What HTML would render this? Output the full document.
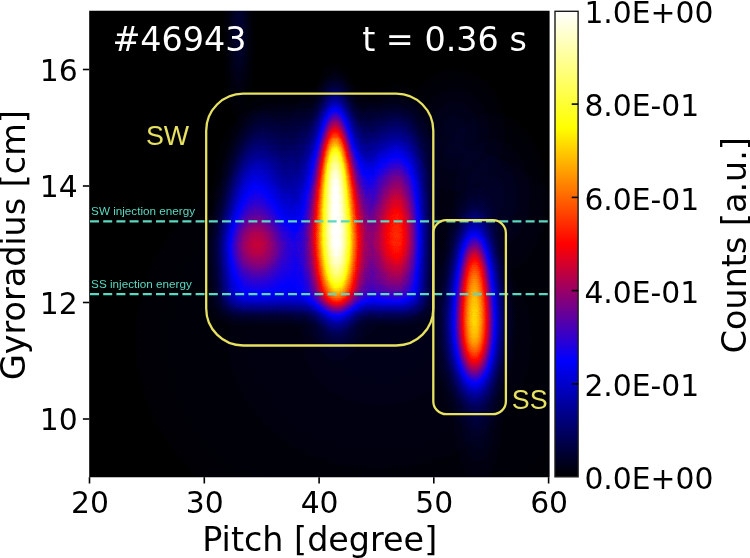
<!DOCTYPE html>
<html><head><meta charset="utf-8"><title>Gyroradius vs Pitch</title>
<style>
html,body{margin:0;padding:0;background:#fff;}
svg{display:block;}
text{font-family:'DejaVu Sans','Liberation Sans',sans-serif;fill:#000;}
.tk{font-size:29.8px;}
.lb{font-size:33.4px;}
.an{font-family:'Liberation Sans','DejaVu Sans',sans-serif;}
.hm ellipse{fill:url(#g);mix-blend-mode:plus-lighter;}
.hm path{mix-blend-mode:plus-lighter;}
</style></head><body>
<svg width="750" height="558" viewBox="0 0 750 558">
<defs>
<radialGradient id="g" cx="0.5" cy="0.5" r="0.5" fx="0.5" fy="0.5">
<stop offset="0.0000" stop-color="#fff" stop-opacity="0.9957"/><stop offset="0.0357" stop-color="#fff" stop-opacity="0.9888"/><stop offset="0.0714" stop-color="#fff" stop-opacity="0.9683"/><stop offset="0.1071" stop-color="#fff" stop-opacity="0.9351"/><stop offset="0.1429" stop-color="#fff" stop-opacity="0.8905"/><stop offset="0.1786" stop-color="#fff" stop-opacity="0.8363"/><stop offset="0.2143" stop-color="#fff" stop-opacity="0.7745"/><stop offset="0.2500" stop-color="#fff" stop-opacity="0.7072"/><stop offset="0.2857" stop-color="#fff" stop-opacity="0.6368"/><stop offset="0.3214" stop-color="#fff" stop-opacity="0.5654"/><stop offset="0.3571" stop-color="#fff" stop-opacity="0.4950"/><stop offset="0.3929" stop-color="#fff" stop-opacity="0.4272"/><stop offset="0.4286" stop-color="#fff" stop-opacity="0.3635"/><stop offset="0.4643" stop-color="#fff" stop-opacity="0.3049"/><stop offset="0.5000" stop-color="#fff" stop-opacity="0.2520"/><stop offset="0.5357" stop-color="#fff" stop-opacity="0.2053"/><stop offset="0.5714" stop-color="#fff" stop-opacity="0.1647"/><stop offset="0.6071" stop-color="#fff" stop-opacity="0.1301"/><stop offset="0.6429" stop-color="#fff" stop-opacity="0.1011"/><stop offset="0.6786" stop-color="#fff" stop-opacity="0.0772"/><stop offset="0.7143" stop-color="#fff" stop-opacity="0.0578"/><stop offset="0.7500" stop-color="#fff" stop-opacity="0.0424"/><stop offset="0.7857" stop-color="#fff" stop-opacity="0.0304"/><stop offset="0.8214" stop-color="#fff" stop-opacity="0.0211"/><stop offset="0.8571" stop-color="#fff" stop-opacity="0.0140"/><stop offset="0.8929" stop-color="#fff" stop-opacity="0.0087"/><stop offset="0.9286" stop-color="#fff" stop-opacity="0.0048"/><stop offset="0.9643" stop-color="#fff" stop-opacity="0.0020"/><stop offset="1.0000" stop-color="#fff" stop-opacity="0.0000"/>
</radialGradient>
<filter id="cm" x="0" y="0" width="1" height="1" color-interpolation-filters="sRGB">
<feComponentTransfer>
<feFuncR type="table" tableValues="0 0 1 1 1 1 1 1 1"/>
<feFuncG type="table" tableValues="0 0 0 1 1 1 1 1 1"/>
<feFuncB type="table" tableValues="0 1 0 0 1 1 1 1 1"/>
</feComponentTransfer>
</filter>
<filter id="b9" x="-0.3" y="-0.3" width="1.6" height="1.6" color-interpolation-filters="sRGB"><feGaussianBlur stdDeviation="9"/></filter><filter id="b12" x="-0.3" y="-0.3" width="1.6" height="1.6" color-interpolation-filters="sRGB"><feGaussianBlur stdDeviation="12"/></filter>
<linearGradient id="pg" gradientUnits="userSpaceOnUse" x1="0" y1="100" x2="0" y2="240">
<stop offset="0" stop-color="#fff" stop-opacity="0"/><stop offset="0.15" stop-color="#fff" stop-opacity="0.22"/><stop offset="0.5" stop-color="#fff" stop-opacity="0.5"/><stop offset="0.8" stop-color="#fff" stop-opacity="0.82"/><stop offset="1" stop-color="#fff" stop-opacity="1"/>
</linearGradient>
<linearGradient id="cb" x1="0" y1="1" x2="0" y2="0">
<stop offset="0" stop-color="#000"/><stop offset="0.25" stop-color="#00f"/><stop offset="0.5" stop-color="#f00"/><stop offset="0.75" stop-color="#ff0"/><stop offset="1" stop-color="#fff"/>
</linearGradient>
<clipPath id="cp"><rect x="89.2" y="10.8" width="460.4" height="466.4"/></clipPath>
</defs>
<rect width="750" height="558" fill="#fff"/>
<g clip-path="url(#cp)">
<g class="hm" filter="url(#cm)">
<rect x="87.2" y="8.8" width="464.4" height="470.4" fill="#000"/>

<path d="M225,308 L225,238 L232,190 L244,140 L256,100 L408,100 L416,140 L421,190 L421,308 Z" fill="url(#pg)" fill-opacity="0.1050" filter="url(#b9)"/>
<path d="M372,158H405Q419,158 419,172V288Q419,302 405,302H372Q358,302 358,288V172Q358,158 372,158Z" fill="#fff" fill-opacity="0.0275" filter="url(#b12)"/>
<ellipse cx="335.2" cy="154.0" rx="31.3" ry="92.4" fill-opacity="0.2047"/>
<ellipse cx="335.6" cy="186.0" rx="41.2" ry="92.4" fill-opacity="0.1764"/>
<ellipse cx="336.0" cy="218.0" rx="48.8" ry="92.4" fill-opacity="0.1575"/>
<ellipse cx="336.4" cy="250.0" rx="47.2" ry="92.4" fill-opacity="0.1575"/>
<ellipse cx="336.8" cy="282.0" rx="39.6" ry="92.4" fill-opacity="0.1528"/>
<ellipse cx="335.2" cy="148.0" rx="72.6" ry="99.0" fill-opacity="0.0286"/>
<ellipse cx="335.6" cy="181.0" rx="74.2" ry="99.0" fill-opacity="0.0286"/>
<ellipse cx="336.0" cy="214.0" rx="75.9" ry="99.0" fill-opacity="0.0286"/>
<ellipse cx="336.4" cy="247.0" rx="77.5" ry="99.0" fill-opacity="0.0286"/>
<ellipse cx="336.8" cy="280.0" rx="79.2" ry="99.0" fill-opacity="0.0286"/>
<ellipse cx="335.0" cy="112.0" rx="29.7" ry="66.0" fill-opacity="0.0400"/>
<ellipse cx="396.5" cy="211.0" rx="49.5" ry="85.8" fill-opacity="0.0553"/>
<ellipse cx="396.5" cy="236.0" rx="49.5" ry="85.8" fill-opacity="0.0553"/>
<ellipse cx="396.5" cy="261.0" rx="49.5" ry="85.8" fill-opacity="0.0553"/>
<ellipse cx="397.0" cy="172.0" rx="56.1" ry="112.2" fill-opacity="0.0675"/>
<ellipse cx="257.0" cy="247.0" rx="66.0" ry="79.2" fill-opacity="0.1025"/>
<ellipse cx="256.0" cy="190.0" rx="56.1" ry="105.6" fill-opacity="0.0500"/>
<ellipse cx="474.5" cy="256.0" rx="34.6" ry="82.5" fill-opacity="0.1303"/>
<ellipse cx="474.5" cy="282.0" rx="42.9" ry="82.5" fill-opacity="0.1375"/>
<ellipse cx="474.5" cy="308.0" rx="47.8" ry="82.5" fill-opacity="0.1447"/>
<ellipse cx="474.5" cy="334.0" rx="47.8" ry="82.5" fill-opacity="0.1621"/>
<ellipse cx="474.5" cy="360.0" rx="41.2" ry="82.5" fill-opacity="0.1375"/>
<ellipse cx="478.0" cy="420.0" rx="39.6" ry="99.0" fill-opacity="0.0150"/>
<ellipse cx="239.0" cy="30.0" rx="23.1" ry="132.0" fill-opacity="0.0225"/>
<ellipse cx="455.0" cy="130.0" rx="82.5" ry="99.0" fill-opacity="0.0150"/>
<ellipse cx="492.0" cy="195.0" rx="92.4" ry="132.0" fill-opacity="0.0140"/>
<ellipse cx="380.0" cy="340.0" rx="429.0" ry="363.0" fill-opacity="0.0125"/>
</g>

<line x1="89.2" y1="221.4" x2="549.6" y2="221.4" stroke="#5cd8c0" stroke-width="2.4" stroke-dasharray="9 4.2" stroke-dashoffset="-0.8"/>
<line x1="89.2" y1="294.1" x2="549.6" y2="294.1" stroke="#5cd8c0" stroke-width="2.4" stroke-dasharray="9 4.2" stroke-dashoffset="-0.8"/>
</g>

<rect x="206.2" y="93.7" width="227.1" height="251.8" rx="37" ry="37" fill="none" stroke="#e7e162" stroke-width="2.3"/>
<rect x="433.3" y="220.2" width="72.6" height="194.0" rx="13" ry="13" fill="none" stroke="#e7e162" stroke-width="2.3"/>
<text class="an" x="146" y="145.2" font-size="26.8px" style="fill:#e7e162">SW</text>
<text class="an" x="511.8" y="409.1" font-size="26.8px" style="fill:#e7e162">SS</text>
<text class="an" x="91.1" y="215.3" font-size="11.7px" style="fill:#5cd8c0">SW injection energy</text>
<text class="an" x="91.1" y="287.9" font-size="11.7px" style="fill:#5cd8c0">SS injection energy</text>
<text class="lb" x="112.4" y="50.8" style="fill:#fff">#46943</text>
<text class="lb" x="526.8" y="50.8" text-anchor="end" style="fill:#fff">t = 0.36 s</text>
<line x1="89.5" y1="477.2" x2="89.5" y2="483.5" stroke="#000" stroke-width="1.6"/>
<text class="tk" x="90.0" y="513.0" text-anchor="middle">20</text>
<line x1="204.3" y1="477.2" x2="204.3" y2="483.5" stroke="#000" stroke-width="1.6"/>
<text class="tk" x="204.8" y="513.0" text-anchor="middle">30</text>
<line x1="319.1" y1="477.2" x2="319.1" y2="483.5" stroke="#000" stroke-width="1.6"/>
<text class="tk" x="319.6" y="513.0" text-anchor="middle">40</text>
<line x1="433.8" y1="477.2" x2="433.8" y2="483.5" stroke="#000" stroke-width="1.6"/>
<text class="tk" x="434.3" y="513.0" text-anchor="middle">50</text>
<line x1="548.6" y1="477.2" x2="548.6" y2="483.5" stroke="#000" stroke-width="1.6"/>
<text class="tk" x="549.1" y="513.0" text-anchor="middle">60</text>
<line x1="82.9" y1="419.0" x2="89.2" y2="419.0" stroke="#000" stroke-width="1.6"/>
<text class="tk" x="77.7" y="430.2" text-anchor="end">10</text>
<line x1="82.9" y1="302.5" x2="89.2" y2="302.5" stroke="#000" stroke-width="1.6"/>
<text class="tk" x="77.7" y="313.7" text-anchor="end">12</text>
<line x1="82.9" y1="186.0" x2="89.2" y2="186.0" stroke="#000" stroke-width="1.6"/>
<text class="tk" x="77.7" y="197.2" text-anchor="end">14</text>
<line x1="82.9" y1="69.5" x2="89.2" y2="69.5" stroke="#000" stroke-width="1.6"/>
<text class="tk" x="77.7" y="80.7" text-anchor="end">16</text>
<text class="lb" x="319.7" y="550.5" text-anchor="middle">Pitch [degree]</text>
<text class="lb" transform="translate(25.4,245.2) rotate(-90)" text-anchor="middle">Gyroradius [cm]</text>
<rect x="555.0" y="11.3" width="23.1" height="465.5" fill="url(#cb)" stroke="#1a1a1a" stroke-width="1.4"/>
<text class="tk" x="584.4" y="489.3">0.0E+00</text>
<line x1="571.7" y1="383.9" x2="578.1" y2="383.9" stroke="#000" stroke-width="1.6"/>
<text class="tk" x="584.4" y="396.0">2.0E-01</text>
<line x1="571.7" y1="290.6" x2="578.1" y2="290.6" stroke="#000" stroke-width="1.6"/>
<text class="tk" x="584.4" y="302.7">4.0E-01</text>
<line x1="571.7" y1="197.4" x2="578.1" y2="197.4" stroke="#000" stroke-width="1.6"/>
<text class="tk" x="584.4" y="209.5">6.0E-01</text>
<line x1="571.7" y1="104.1" x2="578.1" y2="104.1" stroke="#000" stroke-width="1.6"/>
<text class="tk" x="584.4" y="116.2">8.0E-01</text>
<text class="tk" x="584.4" y="22.9">1.0E+00</text>
<text class="lb" transform="translate(745.5,245.2) rotate(-90)" text-anchor="middle">Counts [a.u.]</text>
</svg></body></html>
